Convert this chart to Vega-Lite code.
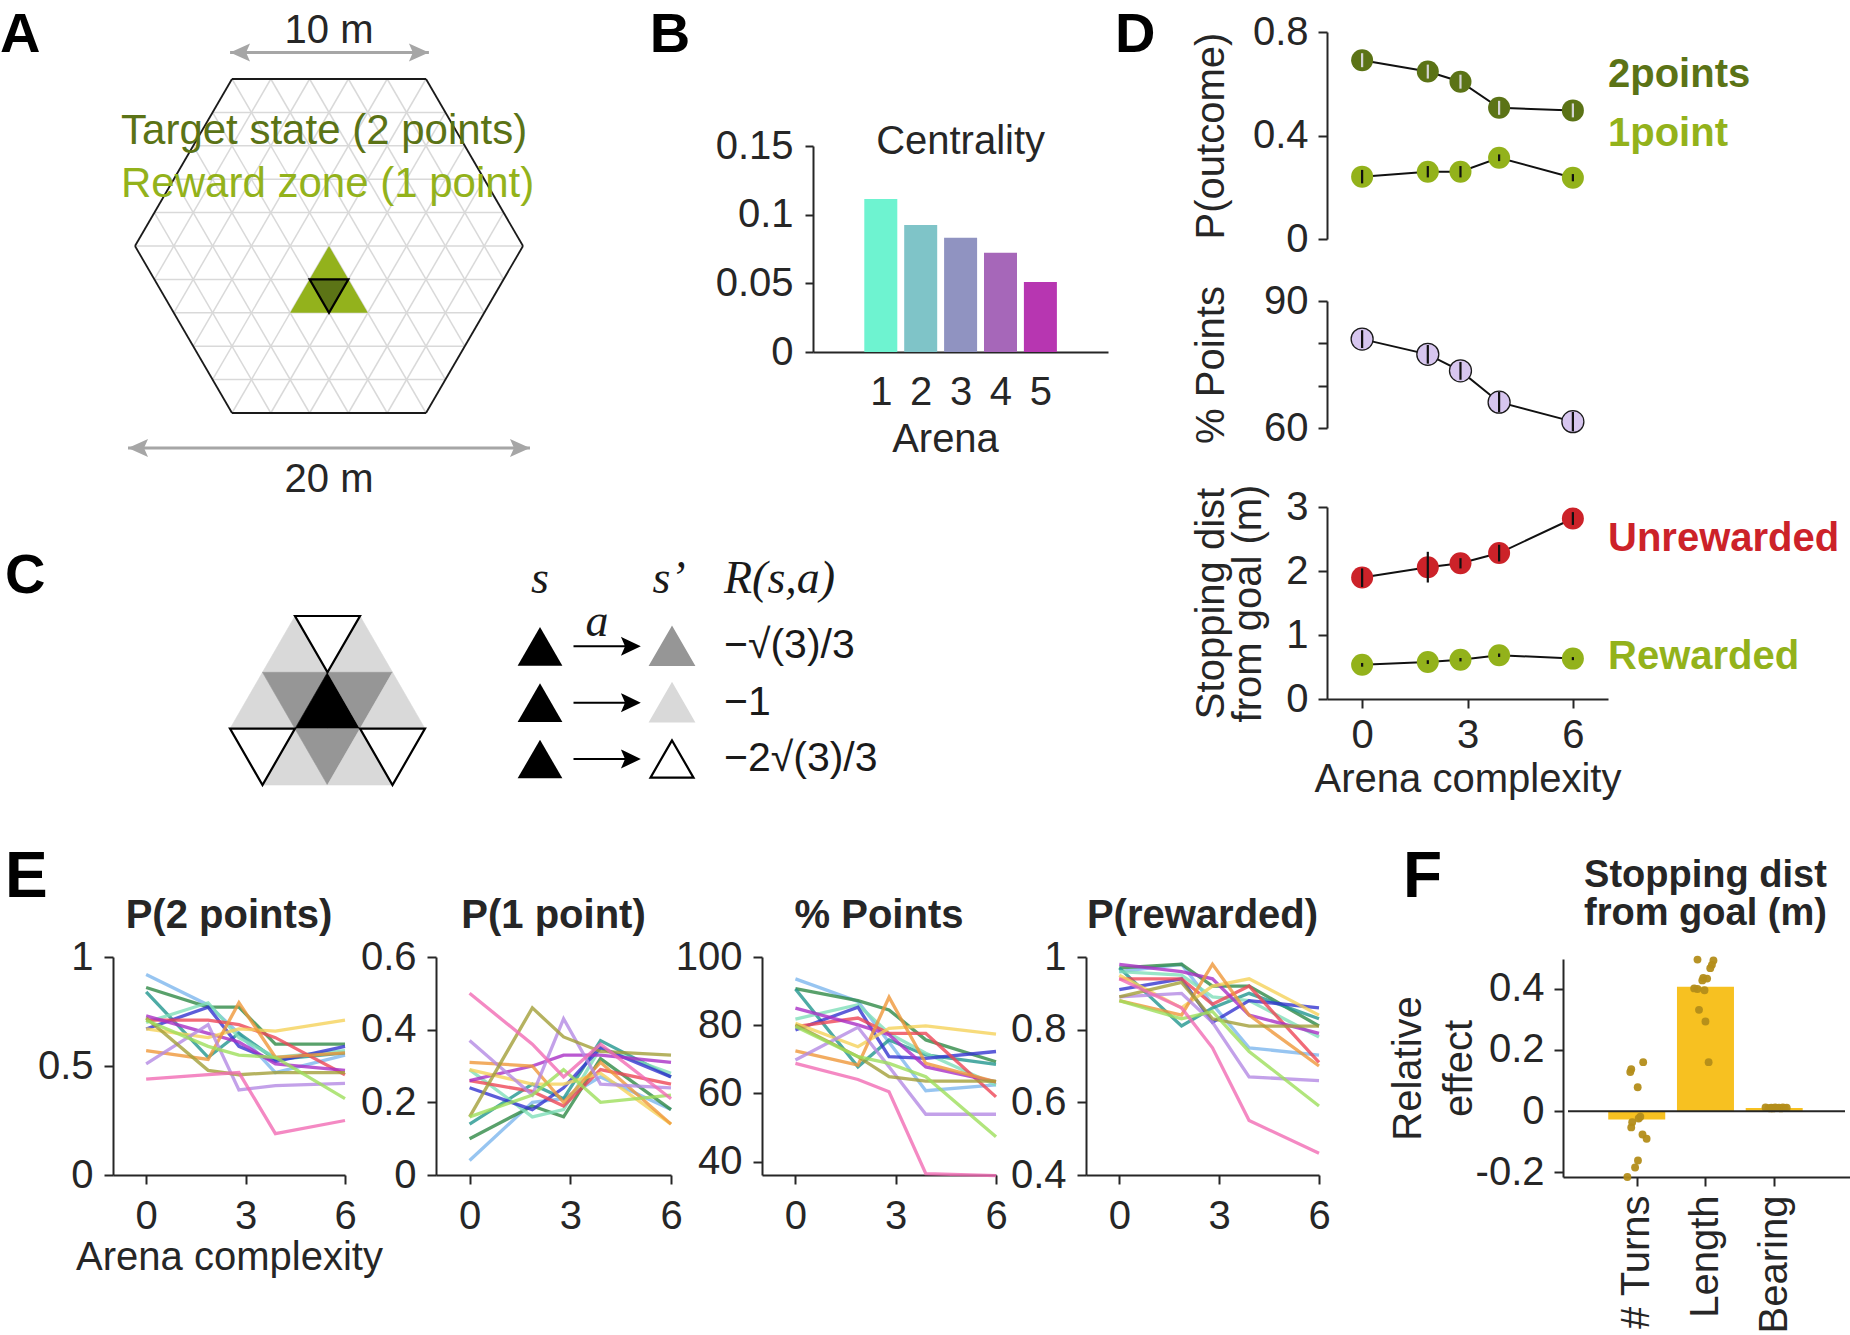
{
"$schema":"https://vega.github.io/schema/vega-lite/v6.json",
"width":1850,"height":1335,
"autosize":{"type":"none"},
"padding":0,
"background":"white",
"config":{
 "view":{"stroke":null},
 "font":"Liberation Sans",
 "axis":{"grid":false,"domainColor":"#262626","domainWidth":2,"tickColor":"#262626","tickWidth":2,"tickSize":9,"labelFont":"Liberation Sans","labelFontSize":40,"labelColor":"#262626","titleFont":"Liberation Sans","titleFontSize":40,"titleFontWeight":"normal","titleColor":"#262626","labelFlush":false,"labelOverlap":false,"labelPadding":11,"labelLimit":0},
 "text":{"font":"Liberation Sans","fontSize":40,"color":"#262626"}
},
"datasets":{
 "e":[
  {"p":1,"s":"lb","x":0,"v":0.92},{"p":1,"s":"lb","x":1.87,"v":0.78},{"p":1,"s":"lb","x":2.8,"v":0.65},{"p":1,"s":"lb","x":3.9,"v":0.47},{"p":1,"s":"lb","x":6,"v":0.55},
  {"p":1,"s":"dg","x":0,"v":0.86},{"p":1,"s":"dg","x":1.87,"v":0.77},{"p":1,"s":"dg","x":2.8,"v":0.77},{"p":1,"s":"dg","x":3.9,"v":0.6},{"p":1,"s":"dg","x":6,"v":0.6},
  {"p":1,"s":"te","x":0,"v":0.84},{"p":1,"s":"te","x":1.87,"v":0.54},{"p":1,"s":"te","x":2.8,"v":0.65},{"p":1,"s":"te","x":3.9,"v":0.53},{"p":1,"s":"te","x":6,"v":0.56},
  {"p":1,"s":"mi","x":0,"v":0.7},{"p":1,"s":"mi","x":1.87,"v":0.79},{"p":1,"s":"mi","x":2.8,"v":0.63},{"p":1,"s":"mi","x":3.9,"v":0.54},{"p":1,"s":"mi","x":6,"v":0.57},
  {"p":1,"s":"bl","x":0,"v":0.67},{"p":1,"s":"bl","x":1.87,"v":0.77},{"p":1,"s":"bl","x":2.8,"v":0.59},{"p":1,"s":"bl","x":3.9,"v":0.52},{"p":1,"s":"bl","x":6,"v":0.59},
  {"p":1,"s":"re","x":0,"v":0.71},{"p":1,"s":"re","x":1.87,"v":0.71},{"p":1,"s":"re","x":2.8,"v":0.69},{"p":1,"s":"re","x":3.9,"v":0.63},{"p":1,"s":"re","x":6,"v":0.46},
  {"p":1,"s":"mg","x":0,"v":0.73},{"p":1,"s":"mg","x":1.87,"v":0.65},{"p":1,"s":"mg","x":2.8,"v":0.61},{"p":1,"s":"mg","x":3.9,"v":0.51},{"p":1,"s":"mg","x":6,"v":0.48},
  {"p":1,"s":"ye","x":0,"v":0.67},{"p":1,"s":"ye","x":1.87,"v":0.63},{"p":1,"s":"ye","x":2.8,"v":0.67},{"p":1,"s":"ye","x":3.9,"v":0.66},{"p":1,"s":"ye","x":6,"v":0.71},
  {"p":1,"s":"or","x":0,"v":0.57},{"p":1,"s":"or","x":1.87,"v":0.53},{"p":1,"s":"or","x":2.8,"v":0.79},{"p":1,"s":"or","x":3.9,"v":0.54},{"p":1,"s":"or","x":6,"v":0.56},
  {"p":1,"s":"la","x":0,"v":0.51},{"p":1,"s":"la","x":1.87,"v":0.69},{"p":1,"s":"la","x":2.8,"v":0.39},{"p":1,"s":"la","x":3.9,"v":0.41},{"p":1,"s":"la","x":6,"v":0.42},
  {"p":1,"s":"ol","x":0,"v":0.72},{"p":1,"s":"ol","x":1.87,"v":0.48},{"p":1,"s":"ol","x":2.8,"v":0.46},{"p":1,"s":"ol","x":3.9,"v":0.47},{"p":1,"s":"ol","x":6,"v":0.47},
  {"p":1,"s":"lg","x":0,"v":0.71},{"p":1,"s":"lg","x":1.87,"v":0.59},{"p":1,"s":"lg","x":2.8,"v":0.55},{"p":1,"s":"lg","x":3.9,"v":0.54},{"p":1,"s":"lg","x":6,"v":0.35},
  {"p":1,"s":"pk","x":0,"v":0.44},{"p":1,"s":"pk","x":1.87,"v":0.46},{"p":1,"s":"pk","x":2.8,"v":0.47},{"p":1,"s":"pk","x":3.9,"v":0.19},{"p":1,"s":"pk","x":6,"v":0.25},

  {"p":2,"s":"lb","x":0,"v":0.04},{"p":2,"s":"lb","x":1.87,"v":0.2},{"p":2,"s":"lb","x":2.8,"v":0.21},{"p":2,"s":"lb","x":3.9,"v":0.27},{"p":2,"s":"lb","x":6,"v":0.18},
  {"p":2,"s":"dg","x":0,"v":0.1},{"p":2,"s":"dg","x":1.87,"v":0.19},{"p":2,"s":"dg","x":2.8,"v":0.16},{"p":2,"s":"dg","x":3.9,"v":0.32},{"p":2,"s":"dg","x":6,"v":0.18},
  {"p":2,"s":"te","x":0,"v":0.14},{"p":2,"s":"te","x":1.87,"v":0.25},{"p":2,"s":"te","x":2.8,"v":0.21},{"p":2,"s":"te","x":3.9,"v":0.37},{"p":2,"s":"te","x":6,"v":0.27},
  {"p":2,"s":"mi","x":0,"v":0.29},{"p":2,"s":"mi","x":1.87,"v":0.16},{"p":2,"s":"mi","x":2.8,"v":0.18},{"p":2,"s":"mi","x":3.9,"v":0.35},{"p":2,"s":"mi","x":6,"v":0.28},
  {"p":2,"s":"bl","x":0,"v":0.24},{"p":2,"s":"bl","x":1.87,"v":0.18},{"p":2,"s":"bl","x":2.8,"v":0.24},{"p":2,"s":"bl","x":3.9,"v":0.35},{"p":2,"s":"bl","x":6,"v":0.27},
  {"p":2,"s":"re","x":0,"v":0.26},{"p":2,"s":"re","x":1.87,"v":0.23},{"p":2,"s":"re","x":2.8,"v":0.19},{"p":2,"s":"re","x":3.9,"v":0.29},{"p":2,"s":"re","x":6,"v":0.25},
  {"p":2,"s":"mg","x":0,"v":0.26},{"p":2,"s":"mg","x":1.87,"v":0.3},{"p":2,"s":"mg","x":2.8,"v":0.33},{"p":2,"s":"mg","x":3.9,"v":0.33},{"p":2,"s":"mg","x":6,"v":0.31},
  {"p":2,"s":"ye","x":0,"v":0.29},{"p":2,"s":"ye","x":1.87,"v":0.25},{"p":2,"s":"ye","x":2.8,"v":0.25},{"p":2,"s":"ye","x":3.9,"v":0.28},{"p":2,"s":"ye","x":6,"v":0.14},
  {"p":2,"s":"or","x":0,"v":0.31},{"p":2,"s":"or","x":1.87,"v":0.3},{"p":2,"s":"or","x":2.8,"v":0.2},{"p":2,"s":"or","x":3.9,"v":0.31},{"p":2,"s":"or","x":6,"v":0.14},
  {"p":2,"s":"la","x":0,"v":0.37},{"p":2,"s":"la","x":1.87,"v":0.22},{"p":2,"s":"la","x":2.8,"v":0.43},{"p":2,"s":"la","x":3.9,"v":0.25},{"p":2,"s":"la","x":6,"v":0.24},
  {"p":2,"s":"ol","x":0,"v":0.16},{"p":2,"s":"ol","x":1.87,"v":0.46},{"p":2,"s":"ol","x":2.8,"v":0.38},{"p":2,"s":"ol","x":3.9,"v":0.34},{"p":2,"s":"ol","x":6,"v":0.33},
  {"p":2,"s":"lg","x":0,"v":0.16},{"p":2,"s":"lg","x":1.87,"v":0.22},{"p":2,"s":"lg","x":2.8,"v":0.29},{"p":2,"s":"lg","x":3.9,"v":0.2},{"p":2,"s":"lg","x":6,"v":0.22},
  {"p":2,"s":"pk","x":0,"v":0.5},{"p":2,"s":"pk","x":1.87,"v":0.36},{"p":2,"s":"pk","x":2.8,"v":0.27},{"p":2,"s":"pk","x":3.9,"v":0.36},{"p":2,"s":"pk","x":6,"v":0.21},

  {"p":3,"s":"lb","x":0,"v":93.6},{"p":3,"s":"lb","x":1.87,"v":87},{"p":3,"s":"lb","x":2.8,"v":75},{"p":3,"s":"lb","x":3.9,"v":60.8},{"p":3,"s":"lb","x":6,"v":62.5},
  {"p":3,"s":"dg","x":0,"v":90.7},{"p":3,"s":"dg","x":1.87,"v":87.2},{"p":3,"s":"dg","x":2.8,"v":84.5},{"p":3,"s":"dg","x":3.9,"v":75.7},{"p":3,"s":"dg","x":6,"v":69.3},
  {"p":3,"s":"te","x":0,"v":90.6},{"p":3,"s":"te","x":1.87,"v":67.8},{"p":3,"s":"te","x":2.8,"v":75.7},{"p":3,"s":"te","x":3.9,"v":71.3},{"p":3,"s":"te","x":6,"v":68.5},
  {"p":3,"s":"mi","x":0,"v":81.8},{"p":3,"s":"mi","x":1.87,"v":86},{"p":3,"s":"mi","x":2.8,"v":77.6},{"p":3,"s":"mi","x":3.9,"v":71.8},{"p":3,"s":"mi","x":6,"v":62.5},
  {"p":3,"s":"bl","x":0,"v":78.6},{"p":3,"s":"bl","x":1.87,"v":85.3},{"p":3,"s":"bl","x":2.8,"v":70.8},{"p":3,"s":"bl","x":3.9,"v":70.3},{"p":3,"s":"bl","x":6,"v":72.3},
  {"p":3,"s":"re","x":0,"v":79.6},{"p":3,"s":"re","x":1.87,"v":82.1},{"p":3,"s":"re","x":2.8,"v":77.6},{"p":3,"s":"re","x":3.9,"v":77.6},{"p":3,"s":"re","x":6,"v":59},
  {"p":3,"s":"mg","x":0,"v":85},{"p":3,"s":"mg","x":1.87,"v":80.1},{"p":3,"s":"mg","x":2.8,"v":77.2},{"p":3,"s":"mg","x":3.9,"v":67.8},{"p":3,"s":"mg","x":6,"v":63.4},
  {"p":3,"s":"ye","x":0,"v":80.6},{"p":3,"s":"ye","x":1.87,"v":73.7},{"p":3,"s":"ye","x":2.8,"v":79.1},{"p":3,"s":"ye","x":3.9,"v":79.8},{"p":3,"s":"ye","x":6,"v":77.4},
  {"p":3,"s":"or","x":0,"v":72.5},{"p":3,"s":"or","x":1.87,"v":68.3},{"p":3,"s":"or","x":2.8,"v":88.2},{"p":3,"s":"or","x":3.9,"v":68.8},{"p":3,"s":"or","x":6,"v":63.4},
  {"p":3,"s":"la","x":0,"v":69.8},{"p":3,"s":"la","x":1.87,"v":79.4},{"p":3,"s":"la","x":2.8,"v":67.8},{"p":3,"s":"la","x":3.9,"v":53.9},{"p":3,"s":"la","x":6,"v":53.9},
  {"p":3,"s":"ol","x":0,"v":80.1},{"p":3,"s":"ol","x":1.87,"v":70.8},{"p":3,"s":"ol","x":2.8,"v":64.9},{"p":3,"s":"ol","x":3.9,"v":63.6},{"p":3,"s":"ol","x":6,"v":63.6},
  {"p":3,"s":"lg","x":0,"v":79.6},{"p":3,"s":"lg","x":1.87,"v":70.8},{"p":3,"s":"lg","x":2.8,"v":68.8},{"p":3,"s":"lg","x":3.9,"v":64.9},{"p":3,"s":"lg","x":6,"v":47.3},
  {"p":3,"s":"pk","x":0,"v":68.8},{"p":3,"s":"pk","x":1.87,"v":64.1},{"p":3,"s":"pk","x":2.8,"v":60.5},{"p":3,"s":"pk","x":3.9,"v":36.5},{"p":3,"s":"pk","x":6,"v":35.9},

  {"p":4,"s":"lb","x":0,"v":0.96},{"p":4,"s":"lb","x":1.87,"v":0.98},{"p":4,"s":"lb","x":2.8,"v":0.87},{"p":4,"s":"lb","x":3.9,"v":0.75},{"p":4,"s":"lb","x":6,"v":0.73},
  {"p":4,"s":"dg","x":0,"v":0.97},{"p":4,"s":"dg","x":1.87,"v":0.98},{"p":4,"s":"dg","x":2.8,"v":0.92},{"p":4,"s":"dg","x":3.9,"v":0.92},{"p":4,"s":"dg","x":6,"v":0.81},
  {"p":4,"s":"te","x":0,"v":0.97},{"p":4,"s":"te","x":1.87,"v":0.81},{"p":4,"s":"te","x":2.8,"v":0.86},{"p":4,"s":"te","x":3.9,"v":0.9},{"p":4,"s":"te","x":6,"v":0.83},
  {"p":4,"s":"mi","x":0,"v":0.96},{"p":4,"s":"mi","x":1.87,"v":0.95},{"p":4,"s":"mi","x":2.8,"v":0.89},{"p":4,"s":"mi","x":3.9,"v":0.88},{"p":4,"s":"mi","x":6,"v":0.78},
  {"p":4,"s":"bl","x":0,"v":0.91},{"p":4,"s":"bl","x":1.87,"v":0.94},{"p":4,"s":"bl","x":2.8,"v":0.82},{"p":4,"s":"bl","x":3.9,"v":0.88},{"p":4,"s":"bl","x":6,"v":0.86},
  {"p":4,"s":"re","x":0,"v":0.94},{"p":4,"s":"re","x":1.87,"v":0.94},{"p":4,"s":"re","x":2.8,"v":0.87},{"p":4,"s":"re","x":3.9,"v":0.92},{"p":4,"s":"re","x":6,"v":0.71},
  {"p":4,"s":"mg","x":0,"v":0.98},{"p":4,"s":"mg","x":1.87,"v":0.96},{"p":4,"s":"mg","x":2.8,"v":0.94},{"p":4,"s":"mg","x":3.9,"v":0.84},{"p":4,"s":"mg","x":6,"v":0.79},
  {"p":4,"s":"ye","x":0,"v":0.95},{"p":4,"s":"ye","x":1.87,"v":0.86},{"p":4,"s":"ye","x":2.8,"v":0.92},{"p":4,"s":"ye","x":3.9,"v":0.94},{"p":4,"s":"ye","x":6,"v":0.84},
  {"p":4,"s":"or","x":0,"v":0.88},{"p":4,"s":"or","x":1.87,"v":0.84},{"p":4,"s":"or","x":2.8,"v":0.98},{"p":4,"s":"or","x":3.9,"v":0.84},{"p":4,"s":"or","x":6,"v":0.7},
  {"p":4,"s":"la","x":0,"v":0.89},{"p":4,"s":"la","x":1.87,"v":0.9},{"p":4,"s":"la","x":2.8,"v":0.82},{"p":4,"s":"la","x":3.9,"v":0.67},{"p":4,"s":"la","x":6,"v":0.66},
  {"p":4,"s":"ol","x":0,"v":0.89},{"p":4,"s":"ol","x":1.87,"v":0.93},{"p":4,"s":"ol","x":2.8,"v":0.83},{"p":4,"s":"ol","x":3.9,"v":0.81},{"p":4,"s":"ol","x":6,"v":0.81},
  {"p":4,"s":"lg","x":0,"v":0.88},{"p":4,"s":"lg","x":1.87,"v":0.83},{"p":4,"s":"lg","x":2.8,"v":0.85},{"p":4,"s":"lg","x":3.9,"v":0.74},{"p":4,"s":"lg","x":6,"v":0.59},
  {"p":4,"s":"pk","x":0,"v":0.94},{"p":4,"s":"pk","x":1.87,"v":0.86},{"p":4,"s":"pk","x":2.8,"v":0.75},{"p":4,"s":"pk","x":3.9,"v":0.55},{"p":4,"s":"pk","x":6,"v":0.46}
 ]
},
"resolve":{"scale":{"x":"independent","y":"independent","color":"independent","fill":"independent","stroke":"independent"},"axis":{"x":"independent","y":"independent"}},
"layer":[
 {"layer":[
  {"data":{"values":[
    {"x":-6,"y":-6.928,"x2":6,"y2":-6.928},{"x":-7,"y":-5.196,"x2":7,"y2":-5.196},{"x":-8,"y":-3.464,"x2":8,"y2":-3.464},{"x":-9,"y":-1.732,"x2":9,"y2":-1.732},{"x":-10,"y":0,"x2":10,"y2":0},{"x":-9,"y":1.732,"x2":9,"y2":1.732},{"x":-8,"y":3.464,"x2":8,"y2":3.464},{"x":-7,"y":5.196,"x2":7,"y2":5.196},{"x":-6,"y":6.928,"x2":6,"y2":6.928},
    {"x":3,"y":-8.66,"x2":9,"y2":1.732},{"x":1,"y":-8.66,"x2":8,"y2":3.464},{"x":-1,"y":-8.66,"x2":7,"y2":5.196},{"x":-3,"y":-8.66,"x2":6,"y2":6.928},{"x":-5,"y":-8.66,"x2":5,"y2":8.66},{"x":-6,"y":-6.928,"x2":3,"y2":8.66},{"x":-7,"y":-5.196,"x2":1,"y2":8.66},{"x":-8,"y":-3.464,"x2":-1,"y2":8.66},{"x":-9,"y":-1.732,"x2":-3,"y2":8.66},
    {"x":-3,"y":-8.66,"x2":-9,"y2":1.732},{"x":-1,"y":-8.66,"x2":-8,"y2":3.464},{"x":1,"y":-8.66,"x2":-7,"y2":5.196},{"x":3,"y":-8.66,"x2":-6,"y2":6.928},{"x":5,"y":-8.66,"x2":-5,"y2":8.66},{"x":6,"y":-6.928,"x2":-3,"y2":8.66},{"x":7,"y":-5.196,"x2":-1,"y2":8.66},{"x":8,"y":-3.464,"x2":1,"y2":8.66},{"x":9,"y":-1.732,"x2":3,"y2":8.66}
   ]},
   "mark":{"type":"rule","color":"#d9d9d9","strokeWidth":1.5},
   "encoding":{"x":{"field":"x","type":"quantitative","scale":{"domain":[-10,10],"range":[135,523],"nice":false,"zero":false},"axis":null},"y":{"field":"y","type":"quantitative","scale":{"domain":[-8.66,8.66],"range":[413,79],"nice":false,"zero":false},"axis":null},"x2":{"field":"x2"},"y2":{"field":"y2"}}},
  {"data":{"values":[
    {"x":10,"y":0,"x2":5,"y2":8.66},{"x":5,"y":8.66,"x2":-5,"y2":8.66},{"x":-5,"y":8.66,"x2":-10,"y2":0},{"x":-10,"y":0,"x2":-5,"y2":-8.66},{"x":-5,"y":-8.66,"x2":5,"y2":-8.66},{"x":5,"y":-8.66,"x2":10,"y2":0}
   ]},
   "mark":{"type":"rule","color":"#1a1a1a","strokeWidth":1.8},
   "encoding":{"x":{"field":"x","type":"quantitative","scale":{"domain":[-10,10],"range":[135,523],"nice":false,"zero":false},"axis":null},"y":{"field":"y","type":"quantitative","scale":{"domain":[-8.66,8.66],"range":[413,79],"nice":false,"zero":false},"axis":null},"x2":{"field":"x2"},"y2":{"field":"y2"}}},
  {"data":{"values":[{"x":-2,"y":-3.464,"y2":-3.464},{"x":0,"y":0,"y2":-3.464},{"x":2,"y":-3.464,"y2":-3.464}]},
   "mark":{"type":"area","color":"#93b21c","opacity":1},
   "encoding":{"x":{"field":"x","type":"quantitative","scale":{"domain":[-10,10],"range":[135,523],"nice":false,"zero":false},"axis":null},"y":{"field":"y","type":"quantitative","stack":null,"scale":{"domain":[-8.66,8.66],"range":[413,79],"nice":false,"zero":false},"axis":null},"y2":{"field":"y2"}}},
  {"data":{"values":[{"x":-1,"y":-1.732,"y2":-1.732},{"x":0,"y":-1.732,"y2":-3.464},{"x":1,"y":-1.732,"y2":-1.732}]},
   "mark":{"type":"area","color":"#5c7416","opacity":1,"stroke":"#000000","strokeWidth":2.2},
   "encoding":{"x":{"field":"x","type":"quantitative","scale":{"domain":[-10,10],"range":[135,523],"nice":false,"zero":false},"axis":null},"y":{"field":"y","type":"quantitative","stack":null,"scale":{"domain":[-8.66,8.66],"range":[413,79],"nice":false,"zero":false},"axis":null},"y2":{"field":"y2"}}},
  {"data":{"values":[{"dim":"10 m","x0":-5.1,"x1":5.15,"y":10.03},{"dim":"20 m","x0":-10.36,"x1":10.36,"y":-10.48}]},
   "layer":[
    {"mark":{"type":"rule","color":"#a6a6a6","strokeWidth":3},
     "encoding":{"x":{"field":"x0","type":"quantitative","scale":{"domain":[-10,10],"range":[135,523],"nice":false,"zero":false},"axis":null},"x2":{"field":"x1"},"y":{"field":"y","type":"quantitative","scale":{"domain":[-8.66,8.66],"range":[413,79],"nice":false,"zero":false},"axis":null}}},
    {"mark":{"type":"point","shape":"M0,0L2,-0.9L1.6,0L2,0.9Z","size":400,"filled":true,"color":"#a6a6a6","opacity":1,"strokeWidth":0},
     "encoding":{"x":{"field":"x0","type":"quantitative","scale":{"domain":[-10,10],"range":[135,523],"nice":false,"zero":false},"axis":null},"y":{"field":"y","type":"quantitative","scale":{"domain":[-8.66,8.66],"range":[413,79],"nice":false,"zero":false},"axis":null}}},
    {"mark":{"type":"point","shape":"M0,0L-2,-0.9L-1.6,0L-2,0.9Z","size":400,"filled":true,"color":"#a6a6a6","opacity":1,"strokeWidth":0},
     "encoding":{"x":{"field":"x1","type":"quantitative","scale":{"domain":[-10,10],"range":[135,523],"nice":false,"zero":false},"axis":null},"y":{"field":"y","type":"quantitative","scale":{"domain":[-8.66,8.66],"range":[413,79],"nice":false,"zero":false},"axis":null}}}
   ]},
  {"data":{"values":[{}]},"mark":{"type":"text","text":"10 m","align":"center","baseline":"alphabetic","fontSize":40,"color":"#262626"},
   "encoding":{"x":{"datum":0,"type":"quantitative","scale":{"domain":[-10,10],"range":[135,523],"nice":false,"zero":false},"axis":null},"y":{"datum":10.53,"type":"quantitative","scale":{"domain":[-8.66,8.66],"range":[413,79],"nice":false,"zero":false},"axis":null}}},
  {"data":{"values":[{}]},"mark":{"type":"text","text":"20 m","align":"center","baseline":"alphabetic","fontSize":40,"color":"#262626"},
   "encoding":{"x":{"datum":0,"type":"quantitative","scale":{"domain":[-10,10],"range":[135,523],"nice":false,"zero":false},"axis":null},"y":{"datum":-12.76,"type":"quantitative","scale":{"domain":[-8.66,8.66],"range":[413,79],"nice":false,"zero":false},"axis":null}}},
  {"data":{"values":[{}]},"mark":{"type":"text","text":"Target state (2 points)","align":"left","baseline":"alphabetic","fontSize":42,"color":"#5b7316"},
   "encoding":{"x":{"datum":-10.72,"type":"quantitative","scale":{"domain":[-10,10],"range":[135,523],"nice":false,"zero":false},"axis":null},"y":{"datum":5.29,"type":"quantitative","scale":{"domain":[-8.66,8.66],"range":[413,79],"nice":false,"zero":false},"axis":null}}},
  {"data":{"values":[{}]},"mark":{"type":"text","text":"Reward zone (1 point)","align":"left","baseline":"alphabetic","fontSize":42,"color":"#93b21b"},
   "encoding":{"x":{"datum":-10.72,"type":"quantitative","scale":{"domain":[-10,10],"range":[135,523],"nice":false,"zero":false},"axis":null},"y":{"datum":2.54,"type":"quantitative","scale":{"domain":[-8.66,8.66],"range":[413,79],"nice":false,"zero":false},"axis":null}}},
  {"data":{"values":[{}]},"mark":{"type":"text","text":"A","align":"left","baseline":"alphabetic","fontSize":56,"fontWeight":"bold","color":"#000000"},
   "encoding":{"x":{"datum":-16.96,"type":"quantitative","scale":{"domain":[-10,10],"range":[135,523],"nice":false,"zero":false},"axis":null},"y":{"datum":10.06,"type":"quantitative","scale":{"domain":[-8.66,8.66],"range":[413,79],"nice":false,"zero":false},"axis":null}}}
 ]},

 {"layer":[
  {"data":{"values":[{"arena":1,"c":0.1114},{"arena":2,"c":0.0925},{"arena":3,"c":0.0832},{"arena":4,"c":0.0723},{"arena":5,"c":0.051}]},
   "mark":{"type":"bar","width":33},
   "encoding":{
    "x":{"field":"arena","type":"quantitative","scale":{"domain":[-0.574,6.569],"range":[813,1108],"nice":false,"zero":false},"axis":{"orient":"bottom","offset":-983,"values":[1,2,3,4,5],"format":"d","title":"Arena","ticks":false,"tickSize":0,"labelPadding":20,"titleY":67,"titleX":945,"titleBaseline":"top"}},
    "y":{"field":"c","type":"quantitative","scale":{"domain":[0,0.15],"range":[352,146],"nice":false,"zero":false},"axis":{"orient":"left","offset":-813,"values":[0,0.05,0.1,0.15],"format":".2~f","title":null,"tickSize":8,"labelPadding":12}},
    "y2":{"datum":0},
    "color":{"field":"arena","type":"nominal","scale":{"domain":[1,2,3,4,5],"range":["#6ef3d0","#7fc4c8","#9093c1","#a667b9","#b736b1"]},"legend":null}}},
  {"data":{"values":[{}]},"mark":{"type":"text","text":"Centrality","align":"center","baseline":"alphabetic","dy":8,"fontSize":40,"color":"#262626"},
   "encoding":{"x":{"datum":3,"type":"quantitative","scale":{"domain":[-0.574,6.569],"range":[813,1108],"nice":false,"zero":false},"axis":{"orient":"bottom","offset":-983,"values":[1,2,3,4,5],"format":"d","title":"Arena","ticks":false,"tickSize":0,"labelPadding":20,"titleY":67,"titleX":945,"titleBaseline":"top"}},
    "y":{"datum":0.15,"type":"quantitative","scale":{"domain":[0,0.15],"range":[352,146],"nice":false,"zero":false},"axis":{"orient":"left","offset":-813,"values":[0,0.05,0.1,0.15],"format":".2~f","title":null,"tickSize":8,"labelPadding":12}}}},
  {"data":{"values":[{}]},"mark":{"type":"text","text":"B","align":"left","baseline":"alphabetic","dx":-231,"dy":-94,"fontSize":56,"fontWeight":"bold","color":"#000000"},
   "encoding":{"x":{"datum":1,"type":"quantitative","scale":{"domain":[-0.574,6.569],"range":[813,1108],"nice":false,"zero":false},"axis":{"orient":"bottom","offset":-983,"values":[1,2,3,4,5],"format":"d","title":"Arena","ticks":false,"tickSize":0,"labelPadding":20,"titleY":67,"titleX":945,"titleBaseline":"top"}},
    "y":{"datum":0.15,"type":"quantitative","scale":{"domain":[0,0.15],"range":[352,146],"nice":false,"zero":false},"axis":{"orient":"left","offset":-813,"values":[0,0.05,0.1,0.15],"format":".2~f","title":null,"tickSize":8,"labelPadding":12}}}}
 ]},

 {"resolve":{"scale":{"x":"independent","y":"independent","fill":"independent","stroke":"independent"}},
  "layer":[
  {"data":{"values":[
    {"t":1,"k":"LG","x":-2,"y":2,"y2":2},{"t":1,"k":"LG","x":-1,"y":3,"y2":2},{"t":1,"k":"LG","x":0,"y":2,"y2":2},
    {"t":2,"k":"W","x":-1,"y":3,"y2":3},{"t":2,"k":"W","x":0,"y":3,"y2":2},{"t":2,"k":"W","x":1,"y":3,"y2":3},
    {"t":3,"k":"LG","x":0,"y":2,"y2":2},{"t":3,"k":"LG","x":1,"y":3,"y2":2},{"t":3,"k":"LG","x":2,"y":2,"y2":2},
    {"t":4,"k":"LG","x":-3,"y":1,"y2":1},{"t":4,"k":"LG","x":-2,"y":2,"y2":1},{"t":4,"k":"LG","x":-1,"y":1,"y2":1},
    {"t":5,"k":"DG","x":-2,"y":2,"y2":2},{"t":5,"k":"DG","x":-1,"y":2,"y2":1},{"t":5,"k":"DG","x":0,"y":2,"y2":2},
    {"t":6,"k":"K","x":-1,"y":1,"y2":1},{"t":6,"k":"K","x":0,"y":2,"y2":1},{"t":6,"k":"K","x":1,"y":1,"y2":1},
    {"t":7,"k":"DG","x":0,"y":2,"y2":2},{"t":7,"k":"DG","x":1,"y":2,"y2":1},{"t":7,"k":"DG","x":2,"y":2,"y2":2},
    {"t":8,"k":"LG","x":1,"y":1,"y2":1},{"t":8,"k":"LG","x":2,"y":2,"y2":1},{"t":8,"k":"LG","x":3,"y":1,"y2":1},
    {"t":9,"k":"W","x":-3,"y":1,"y2":1},{"t":9,"k":"W","x":-2,"y":1,"y2":0},{"t":9,"k":"W","x":-1,"y":1,"y2":1},
    {"t":10,"k":"LG","x":-2,"y":0,"y2":0},{"t":10,"k":"LG","x":-1,"y":1,"y2":0},{"t":10,"k":"LG","x":0,"y":0,"y2":0},
    {"t":11,"k":"DG","x":-1,"y":1,"y2":1},{"t":11,"k":"DG","x":0,"y":1,"y2":0},{"t":11,"k":"DG","x":1,"y":1,"y2":1},
    {"t":12,"k":"LG","x":0,"y":0,"y2":0},{"t":12,"k":"LG","x":1,"y":1,"y2":0},{"t":12,"k":"LG","x":2,"y":0,"y2":0},
    {"t":13,"k":"W","x":1,"y":1,"y2":1},{"t":13,"k":"W","x":2,"y":1,"y2":0},{"t":13,"k":"W","x":3,"y":1,"y2":1}
   ]},
   "layer":[
    {"transform":[{"filter":"datum.k != 'W'"}],
     "mark":{"type":"area","opacity":1,"strokeWidth":0.6},
     "encoding":{"x":{"field":"x","type":"quantitative","scale":{"domain":[-3,3],"range":[230,425],"nice":false,"zero":false},"axis":null},
      "y":{"field":"y","type":"quantitative","stack":null,"scale":{"domain":[0,3],"range":[785,616],"nice":false,"zero":false},"axis":null},
      "y2":{"field":"y2"},"detail":{"field":"t","type":"nominal"},
      "fill":{"field":"k","type":"nominal","scale":{"domain":["LG","DG","K"],"range":["#d9d9d9","#969696","#000000"]},"legend":null},
      "stroke":{"field":"k","type":"nominal","scale":{"domain":["LG","DG","K"],"range":["#d9d9d9","#969696","#000000"]},"legend":null}}},
    {"transform":[{"filter":"datum.k == 'W'"}],
     "mark":{"type":"area","opacity":1,"fill":"#ffffff","stroke":"#000000","strokeWidth":2.2},
     "encoding":{"x":{"field":"x","type":"quantitative","scale":{"domain":[-3,3],"range":[230,425],"nice":false,"zero":false},"axis":null},
      "y":{"field":"y","type":"quantitative","stack":null,"scale":{"domain":[0,3],"range":[785,616],"nice":false,"zero":false},"axis":null},
      "y2":{"field":"y2"},"detail":{"field":"t","type":"nominal"}}},
    {"data":{"values":[{}]},"mark":{"type":"text","text":"C","align":"left","baseline":"alphabetic","dx":-225,"dy":-23,"fontSize":56,"fontWeight":"bold","color":"#000000"},
     "encoding":{"x":{"datum":-3,"type":"quantitative","scale":{"domain":[-3,3],"range":[230,425],"nice":false,"zero":false},"axis":null},"y":{"datum":3,"type":"quantitative","scale":{"domain":[0,3],"range":[785,616],"nice":false,"zero":false},"axis":null}}}
   ]},
  {"data":{"values":[{"row":"1","next":"dark","r":"−√(3)/3"},{"row":"2","next":"light","r":"−1"},{"row":"3","next":"empty","r":"−2√(3)/3"}]},
   "layer":[
    {"mark":{"type":"point","shape":"triangle-up","size":2000,"filled":true,"color":"#000000","opacity":1,"strokeWidth":0},
     "encoding":{"x":{"datum":"s","type":"ordinal","scale":{"type":"point","domain":["s","a","s'","R"],"range":[540,738],"padding":0},"axis":null},
      "y":{"field":"row","type":"ordinal","scale":{"type":"point","domain":["hdr","1","2","3"],"range":[590,759],"padding":0},"axis":null}}},
    {"mark":{"type":"point","shape":"M-1,0L0.6,0M0.52,-0.23L1,0L0.52,0.23L0.62,0Z","size":4225,"filled":true,"fill":"#000000","stroke":"#000000","strokeWidth":2,"opacity":1},
     "encoding":{"x":{"datum":"a","type":"ordinal","scale":{"type":"point","domain":["s","a","s'","R"],"range":[540,738],"padding":0},"axis":null},
      "y":{"field":"row","type":"ordinal","scale":{"type":"point","domain":["hdr","1","2","3"],"range":[590,759],"padding":0},"axis":null}}},
    {"mark":{"type":"point","shape":"triangle-up","size":1850,"filled":true,"opacity":1,"strokeWidth":2.2},
     "encoding":{"x":{"datum":"s'","type":"ordinal","scale":{"type":"point","domain":["s","a","s'","R"],"range":[540,738],"padding":0},"axis":null},
      "y":{"field":"row","type":"ordinal","scale":{"type":"point","domain":["hdr","1","2","3"],"range":[590,759],"padding":0},"axis":null},
      "fill":{"field":"next","type":"nominal","scale":{"domain":["dark","light","empty"],"range":["#969696","#d9d9d9","#ffffff"]},"legend":null},
      "stroke":{"field":"next","type":"nominal","scale":{"domain":["dark","light","empty"],"range":["#969696","#d9d9d9","#000000"]},"legend":null}}},
    {"mark":{"type":"text","align":"left","baseline":"middle","dx":-14,"fontSize":41,"color":"#1a1a1a"},
     "encoding":{"text":{"field":"r"},"x":{"datum":"R","type":"ordinal","scale":{"type":"point","domain":["s","a","s'","R"],"range":[540,738],"padding":0},"axis":null},
      "y":{"field":"row","type":"ordinal","scale":{"type":"point","domain":["hdr","1","2","3"],"range":[590,759],"padding":0},"axis":null}}},
    {"data":{"values":[{}]},"mark":{"type":"text","text":"s","align":"center","baseline":"alphabetic","dy":3,"font":"Liberation Serif","fontStyle":"italic","fontSize":46,"color":"#1a1a1a"},
     "encoding":{"x":{"datum":"s","type":"ordinal","scale":{"type":"point","domain":["s","a","s'","R"],"range":[540,738],"padding":0},"axis":null},
      "y":{"datum":"hdr","type":"ordinal","scale":{"type":"point","domain":["hdr","1","2","3"],"range":[590,759],"padding":0},"axis":null}}},
    {"data":{"values":[{}]},"mark":{"type":"text","text":"s’","align":"center","baseline":"alphabetic","dy":3,"dx":-3,"font":"Liberation Serif","fontStyle":"italic","fontSize":46,"color":"#1a1a1a"},
     "encoding":{"x":{"datum":"s'","type":"ordinal","scale":{"type":"point","domain":["s","a","s'","R"],"range":[540,738],"padding":0},"axis":null},
      "y":{"datum":"hdr","type":"ordinal","scale":{"type":"point","domain":["hdr","1","2","3"],"range":[590,759],"padding":0},"axis":null}}},
    {"data":{"values":[{}]},"mark":{"type":"text","text":"R(s,a)","align":"left","baseline":"alphabetic","dy":3,"dx":-14,"font":"Liberation Serif","fontStyle":"italic","fontSize":46,"color":"#1a1a1a"},
     "encoding":{"x":{"datum":"R","type":"ordinal","scale":{"type":"point","domain":["s","a","s'","R"],"range":[540,738],"padding":0},"axis":null},
      "y":{"datum":"hdr","type":"ordinal","scale":{"type":"point","domain":["hdr","1","2","3"],"range":[590,759],"padding":0},"axis":null}}},
    {"data":{"values":[{}]},"mark":{"type":"text","text":"a","align":"center","baseline":"alphabetic","dy":-10,"dx":-9,"font":"Liberation Serif","fontStyle":"italic","fontSize":46,"color":"#1a1a1a"},
     "encoding":{"x":{"datum":"a","type":"ordinal","scale":{"type":"point","domain":["s","a","s'","R"],"range":[540,738],"padding":0},"axis":null},
      "y":{"datum":"1","type":"ordinal","scale":{"type":"point","domain":["hdr","1","2","3"],"range":[590,759],"padding":0},"axis":null}}}
   ]}
 ]},

 {"layer":[
  {"data":{"values":[
    {"s":"2points","x":0,"v":0.691,"lo":0.664,"hi":0.718},{"s":"2points","x":1.87,"v":0.647,"lo":0.62,"hi":0.674},{"s":"2points","x":2.8,"v":0.608,"lo":0.581,"hi":0.635},{"s":"2points","x":3.9,"v":0.507,"lo":0.48,"hi":0.534},{"s":"2points","x":6,"v":0.497,"lo":0.47,"hi":0.524},
    {"s":"1point","x":0,"v":0.241,"lo":0.215,"hi":0.267},{"s":"1point","x":1.87,"v":0.26,"lo":0.238,"hi":0.282},{"s":"1point","x":2.8,"v":0.26,"lo":0.238,"hi":0.282},{"s":"1point","x":3.9,"v":0.314,"lo":0.301,"hi":0.327},{"s":"1point","x":6,"v":0.237,"lo":0.223,"hi":0.251}
   ]},
   "layer":[
    {"mark":{"type":"line","color":"#111111","strokeWidth":2},
     "encoding":{"x":{"field":"x","type":"quantitative","scale":{"domain":[-1,7],"range":[1327,1608],"nice":false,"zero":false},"axis":null},
      "y":{"field":"v","type":"quantitative","scale":{"domain":[0,0.8],"range":[239,32],"nice":false,"zero":false},"axis":{"orient":"left","offset":-1327,"values":[0,0.4,0.8],"format":".1~f","title":"P(outcome)","titleX":-116,"titleBaseline":"middle","labelPadding":10}},
      "detail":{"field":"s","type":"nominal"}}},
    {"mark":{"type":"point","shape":"circle","filled":true,"size":484,"opacity":1,"strokeWidth":0},
     "encoding":{"x":{"field":"x","type":"quantitative","scale":{"domain":[-1,7],"range":[1327,1608],"nice":false,"zero":false},"axis":null},
      "y":{"field":"v","type":"quantitative","scale":{"domain":[0,0.8],"range":[239,32],"nice":false,"zero":false},"axis":{"orient":"left","offset":-1327,"values":[0,0.4,0.8],"format":".1~f","title":"P(outcome)","titleX":-116,"titleBaseline":"middle","labelPadding":10}},
      "fill":{"field":"s","type":"nominal","scale":{"domain":["2points","1point"],"range":["#5b7316","#93b21b"]},"legend":null}}},
    {"mark":{"type":"rule","strokeWidth":2.2},
     "encoding":{"x":{"field":"x","type":"quantitative","scale":{"domain":[-1,7],"range":[1327,1608],"nice":false,"zero":false},"axis":null},
      "y":{"field":"lo","type":"quantitative","scale":{"domain":[0,0.8],"range":[239,32],"nice":false,"zero":false},"axis":{"orient":"left","offset":-1327,"values":[0,0.4,0.8],"format":".1~f","title":"P(outcome)","titleX":-116,"titleBaseline":"middle","labelPadding":10}},"y2":{"field":"hi"},
      "stroke":{"field":"s","type":"nominal","scale":{"domain":["2points","1point"],"range":["#d4d4d4","#111111"]},"legend":null}}}
   ]},
  {"data":{"values":[{}]},"mark":{"type":"text","text":"2points","align":"left","baseline":"alphabetic","dy":55,"fontSize":40,"fontWeight":"bold","color":"#5b7316"},
   "encoding":{"x":{"datum":7,"type":"quantitative","scale":{"domain":[-1,7],"range":[1327,1608],"nice":false,"zero":false},"axis":null},"y":{"datum":0.8,"type":"quantitative","scale":{"domain":[0,0.8],"range":[239,32],"nice":false,"zero":false},"axis":{"orient":"left","offset":-1327,"values":[0,0.4,0.8],"format":".1~f","title":"P(outcome)","titleX":-116,"titleBaseline":"middle","labelPadding":10}}}},
  {"data":{"values":[{}]},"mark":{"type":"text","text":"1point","align":"left","baseline":"alphabetic","dy":114,"fontSize":40,"fontWeight":"bold","color":"#93b21b"},
   "encoding":{"x":{"datum":7,"type":"quantitative","scale":{"domain":[-1,7],"range":[1327,1608],"nice":false,"zero":false},"axis":null},"y":{"datum":0.8,"type":"quantitative","scale":{"domain":[0,0.8],"range":[239,32],"nice":false,"zero":false},"axis":{"orient":"left","offset":-1327,"values":[0,0.4,0.8],"format":".1~f","title":"P(outcome)","titleX":-116,"titleBaseline":"middle","labelPadding":10}}}},
  {"data":{"values":[{}]},"mark":{"type":"text","text":"D","align":"left","baseline":"alphabetic","dx":-212,"dy":20,"fontSize":56,"fontWeight":"bold","color":"#000000"},
   "encoding":{"x":{"datum":-1,"type":"quantitative","scale":{"domain":[-1,7],"range":[1327,1608],"nice":false,"zero":false},"axis":null},"y":{"datum":0.8,"type":"quantitative","scale":{"domain":[0,0.8],"range":[239,32],"nice":false,"zero":false},"axis":{"orient":"left","offset":-1327,"values":[0,0.4,0.8],"format":".1~f","title":"P(outcome)","titleX":-116,"titleBaseline":"middle","labelPadding":10}}}}
 ]},

 {"data":{"values":[
   {"x":0,"v":81.0,"lo":78.9,"hi":83.1},{"x":1.87,"v":77.4,"lo":75.2,"hi":79.6},{"x":2.8,"v":73.5,"lo":71.4,"hi":75.6},{"x":3.9,"v":66.1,"lo":63.7,"hi":68.5},{"x":6,"v":61.5,"lo":59.2,"hi":63.8}
  ]},
  "layer":[
   {"mark":{"type":"line","color":"#111111","strokeWidth":2},
    "encoding":{"x":{"field":"x","type":"quantitative","scale":{"domain":[-1,7],"range":[1327,1608],"nice":false,"zero":false},"axis":null},
     "y":{"field":"v","type":"quantitative","scale":{"domain":[60,90],"range":[428,301],"nice":false,"zero":false},"axis":{"orient":"left","offset":-1327,"values":[60,70,80,90],"format":"d","labelExpr":"datum.value == 60 || datum.value == 90 ? datum.label : ''","title":"% Points","titleX":-116,"titleBaseline":"middle","labelPadding":10}}}},
   {"mark":{"type":"point","shape":"circle","filled":true,"size":484,"opacity":1,"fill":"#d7c6ef","stroke":"#1a1a1a","strokeWidth":1.3},
    "encoding":{"x":{"field":"x","type":"quantitative","scale":{"domain":[-1,7],"range":[1327,1608],"nice":false,"zero":false},"axis":null},
     "y":{"field":"v","type":"quantitative","scale":{"domain":[60,90],"range":[428,301],"nice":false,"zero":false},"axis":{"orient":"left","offset":-1327,"values":[60,70,80,90],"format":"d","labelExpr":"datum.value == 60 || datum.value == 90 ? datum.label : ''","title":"% Points","titleX":-116,"titleBaseline":"middle","labelPadding":10}}}},
   {"mark":{"type":"rule","strokeWidth":2.2,"color":"#111111"},
    "encoding":{"x":{"field":"x","type":"quantitative","scale":{"domain":[-1,7],"range":[1327,1608],"nice":false,"zero":false},"axis":null},
     "y":{"field":"lo","type":"quantitative","scale":{"domain":[60,90],"range":[428,301],"nice":false,"zero":false},"axis":{"orient":"left","offset":-1327,"values":[60,70,80,90],"format":"d","labelExpr":"datum.value == 60 || datum.value == 90 ? datum.label : ''","title":"% Points","titleX":-116,"titleBaseline":"middle","labelPadding":10}},"y2":{"field":"hi"}}}
  ]},

 {"layer":[
  {"data":{"values":[
    {"s":"Unrewarded","x":0,"v":1.897,"lo":1.75,"hi":2.04},{"s":"Unrewarded","x":1.87,"v":2.06,"lo":1.82,"hi":2.3},{"s":"Unrewarded","x":2.8,"v":2.12,"lo":2.04,"hi":2.2},{"s":"Unrewarded","x":3.9,"v":2.28,"lo":2.15,"hi":2.41},{"s":"Unrewarded","x":6,"v":2.82,"lo":2.72,"hi":2.92},
    {"s":"Rewarded","x":0,"v":0.534,"lo":0.505,"hi":0.563},{"s":"Rewarded","x":1.87,"v":0.577,"lo":0.548,"hi":0.606},{"s":"Rewarded","x":2.8,"v":0.614,"lo":0.587,"hi":0.641},{"s":"Rewarded","x":3.9,"v":0.684,"lo":0.657,"hi":0.711},{"s":"Rewarded","x":6,"v":0.631,"lo":0.607,"hi":0.655}
   ]},
   "layer":[
    {"mark":{"type":"line","color":"#111111","strokeWidth":2},
     "encoding":{"x":{"field":"x","type":"quantitative","scale":{"domain":[-1,7],"range":[1327,1608],"nice":false,"zero":false},"axis":{"orient":"bottom","offset":-636,"values":[0,3,6],"format":"d","title":"Arena complexity","titleY":60,"titleBaseline":"top","labelPadding":7}},
      "y":{"field":"v","type":"quantitative","scale":{"domain":[0,3],"range":[699,507],"nice":false,"zero":false},"axis":{"orient":"left","offset":-1327,"values":[0,1,2,3],"format":"d","title":["Stopping dist","from goal (m)"],"titleX":-116,"titleBaseline":"middle","titleLineHeight":37,"labelPadding":10}},
      "detail":{"field":"s","type":"nominal"}}},
    {"mark":{"type":"point","shape":"circle","filled":true,"size":484,"opacity":1,"strokeWidth":0},
     "encoding":{"x":{"field":"x","type":"quantitative","scale":{"domain":[-1,7],"range":[1327,1608],"nice":false,"zero":false},"axis":{"orient":"bottom","offset":-636,"values":[0,3,6],"format":"d","title":"Arena complexity","titleY":60,"titleBaseline":"top","labelPadding":7}},
      "y":{"field":"v","type":"quantitative","scale":{"domain":[0,3],"range":[699,507],"nice":false,"zero":false},"axis":{"orient":"left","offset":-1327,"values":[0,1,2,3],"format":"d","title":["Stopping dist","from goal (m)"],"titleX":-116,"titleBaseline":"middle","titleLineHeight":37,"labelPadding":10}},
      "fill":{"field":"s","type":"nominal","scale":{"domain":["Unrewarded","Rewarded"],"range":["#cc2229","#93b21b"]},"legend":null}}},
    {"mark":{"type":"rule","strokeWidth":2.2,"color":"#111111"},
     "encoding":{"x":{"field":"x","type":"quantitative","scale":{"domain":[-1,7],"range":[1327,1608],"nice":false,"zero":false},"axis":{"orient":"bottom","offset":-636,"values":[0,3,6],"format":"d","title":"Arena complexity","titleY":60,"titleBaseline":"top","labelPadding":7}},
      "y":{"field":"lo","type":"quantitative","scale":{"domain":[0,3],"range":[699,507],"nice":false,"zero":false},"axis":{"orient":"left","offset":-1327,"values":[0,1,2,3],"format":"d","title":["Stopping dist","from goal (m)"],"titleX":-116,"titleBaseline":"middle","titleLineHeight":37,"labelPadding":10}},"y2":{"field":"hi"}}}
   ]},
  {"data":{"values":[{}]},"mark":{"type":"text","text":"Unrewarded","align":"left","baseline":"alphabetic","dy":44,"fontSize":40,"fontWeight":"bold","color":"#cc2229"},
   "encoding":{"x":{"datum":7,"type":"quantitative","scale":{"domain":[-1,7],"range":[1327,1608],"nice":false,"zero":false},"axis":{"orient":"bottom","offset":-636,"values":[0,3,6],"format":"d","title":"Arena complexity","titleY":60,"titleBaseline":"top","labelPadding":7}},
    "y":{"datum":3,"type":"quantitative","scale":{"domain":[0,3],"range":[699,507],"nice":false,"zero":false},"axis":{"orient":"left","offset":-1327,"values":[0,1,2,3],"format":"d","title":["Stopping dist","from goal (m)"],"titleX":-116,"titleBaseline":"middle","titleLineHeight":37,"labelPadding":10}}}},
  {"data":{"values":[{}]},"mark":{"type":"text","text":"Rewarded","align":"left","baseline":"alphabetic","dy":162,"fontSize":40,"fontWeight":"bold","color":"#93b21b"},
   "encoding":{"x":{"datum":7,"type":"quantitative","scale":{"domain":[-1,7],"range":[1327,1608],"nice":false,"zero":false},"axis":{"orient":"bottom","offset":-636,"values":[0,3,6],"format":"d","title":"Arena complexity","titleY":60,"titleBaseline":"top","labelPadding":7}},
    "y":{"datum":3,"type":"quantitative","scale":{"domain":[0,3],"range":[699,507],"nice":false,"zero":false},"axis":{"orient":"left","offset":-1327,"values":[0,1,2,3],"format":"d","title":["Stopping dist","from goal (m)"],"titleX":-116,"titleBaseline":"middle","titleLineHeight":37,"labelPadding":10}}}}
 ]},

 {"layer":[
  {"data":{"name":"e"},"transform":[{"filter":"datum.p == 1"}],
   "mark":{"type":"line","strokeWidth":3.3,"opacity":0.8},
   "encoding":{"x":{"field":"x","type":"quantitative","scale":{"domain":[-1,6],"range":[113,345],"nice":false,"zero":false},"axis":{"orient":"bottom","offset":-160,"values":[0,3,6],"format":"d","title":"Arena complexity","titleY":62,"titleBaseline":"top","labelPadding":12}},
    "y":{"field":"v","type":"quantitative","scale":{"domain":[0,1],"range":[1175,957],"nice":false,"zero":false},"axis":{"orient":"left","offset":-113,"values":[0,0.5,1],"format":".1~f","title":null}},
    "color":{"field":"s","type":"nominal","scale":{"domain":["lb","dg","te","mi","bl","re","mg","ye","or","la","ol","lg","pk"],"range":["#7db7ee","#2f8a46","#22968f","#7fdfb9","#3434cf","#ee4656","#a92fc6","#f5d25a","#ef9739","#b48ae3","#a29f38","#9ede5b","#f16cb4"]},"legend":null}}},
  {"data":{"values":[{}]},"mark":{"type":"text","text":"P(2 points)","align":"center","baseline":"alphabetic","dy":-29,"fontSize":40,"fontWeight":"bold","color":"#262626"},
   "encoding":{"x":{"datum":2.5,"type":"quantitative","scale":{"domain":[-1,6],"range":[113,345],"nice":false,"zero":false},"axis":{"orient":"bottom","offset":-160,"values":[0,3,6],"format":"d","title":"Arena complexity","titleY":62,"titleBaseline":"top","labelPadding":12}},
    "y":{"datum":1,"type":"quantitative","scale":{"domain":[0,1],"range":[1175,957],"nice":false,"zero":false},"axis":{"orient":"left","offset":-113,"values":[0,0.5,1],"format":".1~f","title":null}}}},
  {"data":{"values":[{}]},"mark":{"type":"text","text":"E","align":"left","baseline":"alphabetic","dx":-108,"dy":-60,"fontSize":64,"fontWeight":"bold","color":"#000000"},
   "encoding":{"x":{"datum":-1,"type":"quantitative","scale":{"domain":[-1,6],"range":[113,345],"nice":false,"zero":false},"axis":{"orient":"bottom","offset":-160,"values":[0,3,6],"format":"d","title":"Arena complexity","titleY":62,"titleBaseline":"top","labelPadding":12}},
    "y":{"datum":1,"type":"quantitative","scale":{"domain":[0,1],"range":[1175,957],"nice":false,"zero":false},"axis":{"orient":"left","offset":-113,"values":[0,0.5,1],"format":".1~f","title":null}}}}
 ]},

 {"layer":[
  {"data":{"name":"e"},"transform":[{"filter":"datum.p == 2"}],
   "mark":{"type":"line","strokeWidth":3.3,"opacity":0.8},
   "encoding":{"x":{"field":"x","type":"quantitative","scale":{"domain":[-1,6],"range":[436,671],"nice":false,"zero":false},"axis":{"orient":"bottom","offset":-160,"values":[0,3,6],"format":"d","title":null,"labelPadding":12}},
    "y":{"field":"v","type":"quantitative","scale":{"domain":[0,0.6],"range":[1175,957],"nice":false,"zero":false},"axis":{"orient":"left","offset":-436,"values":[0,0.2,0.4,0.6],"format":".1~f","title":null}},
    "color":{"field":"s","type":"nominal","scale":{"domain":["lb","dg","te","mi","bl","re","mg","ye","or","la","ol","lg","pk"],"range":["#7db7ee","#2f8a46","#22968f","#7fdfb9","#3434cf","#ee4656","#a92fc6","#f5d25a","#ef9739","#b48ae3","#a29f38","#9ede5b","#f16cb4"]},"legend":null}}},
  {"data":{"values":[{}]},"mark":{"type":"text","text":"P(1 point)","align":"center","baseline":"alphabetic","dy":-29,"fontSize":40,"fontWeight":"bold","color":"#262626"},
   "encoding":{"x":{"datum":2.5,"type":"quantitative","scale":{"domain":[-1,6],"range":[436,671],"nice":false,"zero":false},"axis":{"orient":"bottom","offset":-160,"values":[0,3,6],"format":"d","title":null,"labelPadding":12}},
    "y":{"datum":0.6,"type":"quantitative","scale":{"domain":[0,0.6],"range":[1175,957],"nice":false,"zero":false},"axis":{"orient":"left","offset":-436,"values":[0,0.2,0.4,0.6],"format":".1~f","title":null}}}}
 ]},

 {"layer":[
  {"data":{"name":"e"},"transform":[{"filter":"datum.p == 3"}],
   "mark":{"type":"line","strokeWidth":3.3,"opacity":0.8},
   "encoding":{"x":{"field":"x","type":"quantitative","scale":{"domain":[-1,6],"range":[762,996],"nice":false,"zero":false},"axis":{"orient":"bottom","offset":-160,"values":[0,3,6],"format":"d","title":null,"labelPadding":12}},
    "y":{"field":"v","type":"quantitative","scale":{"domain":[36.1,100],"range":[1175,957],"nice":false,"zero":false},"axis":{"orient":"left","offset":-762,"values":[40,60,80,100],"format":"d","title":null}},
    "color":{"field":"s","type":"nominal","scale":{"domain":["lb","dg","te","mi","bl","re","mg","ye","or","la","ol","lg","pk"],"range":["#7db7ee","#2f8a46","#22968f","#7fdfb9","#3434cf","#ee4656","#a92fc6","#f5d25a","#ef9739","#b48ae3","#a29f38","#9ede5b","#f16cb4"]},"legend":null}}},
  {"data":{"values":[{}]},"mark":{"type":"text","text":"% Points","align":"center","baseline":"alphabetic","dy":-29,"fontSize":40,"fontWeight":"bold","color":"#262626"},
   "encoding":{"x":{"datum":2.5,"type":"quantitative","scale":{"domain":[-1,6],"range":[762,996],"nice":false,"zero":false},"axis":{"orient":"bottom","offset":-160,"values":[0,3,6],"format":"d","title":null,"labelPadding":12}},
    "y":{"datum":100,"type":"quantitative","scale":{"domain":[36.1,100],"range":[1175,957],"nice":false,"zero":false},"axis":{"orient":"left","offset":-762,"values":[40,60,80,100],"format":"d","title":null}}}}
 ]},

 {"layer":[
  {"data":{"name":"e"},"transform":[{"filter":"datum.p == 4"}],
   "mark":{"type":"line","strokeWidth":3.3,"opacity":0.8},
   "encoding":{"x":{"field":"x","type":"quantitative","scale":{"domain":[-1,6],"range":[1086,1319],"nice":false,"zero":false},"axis":{"orient":"bottom","offset":-160,"values":[0,3,6],"format":"d","title":null,"labelPadding":12}},
    "y":{"field":"v","type":"quantitative","scale":{"domain":[0.4,1],"range":[1175,957],"nice":false,"zero":false},"axis":{"orient":"left","offset":-1086,"values":[0.4,0.6,0.8,1],"format":".1~f","title":null}},
    "color":{"field":"s","type":"nominal","scale":{"domain":["lb","dg","te","mi","bl","re","mg","ye","or","la","ol","lg","pk"],"range":["#7db7ee","#2f8a46","#22968f","#7fdfb9","#3434cf","#ee4656","#a92fc6","#f5d25a","#ef9739","#b48ae3","#a29f38","#9ede5b","#f16cb4"]},"legend":null}}},
  {"data":{"values":[{}]},"mark":{"type":"text","text":"P(rewarded)","align":"center","baseline":"alphabetic","dy":-29,"fontSize":40,"fontWeight":"bold","color":"#262626"},
   "encoding":{"x":{"datum":2.5,"type":"quantitative","scale":{"domain":[-1,6],"range":[1086,1319],"nice":false,"zero":false},"axis":{"orient":"bottom","offset":-160,"values":[0,3,6],"format":"d","title":null,"labelPadding":12}},
    "y":{"datum":1,"type":"quantitative","scale":{"domain":[0.4,1],"range":[1175,957],"nice":false,"zero":false},"axis":{"orient":"left","offset":-1086,"values":[0.4,0.6,0.8,1],"format":".1~f","title":null}}}}
 ]},

 {"layer":[
  {"data":{"values":[{"m":"# Turns","i":1,"v":-0.027},{"m":"Length","i":2,"v":0.406},{"m":"Bearing","i":3,"v":0.01}]},
   "mark":{"type":"bar","color":"#f7c121","width":57},
   "encoding":{"x":{"field":"i","type":"quantitative","scale":{"domain":[0,4.03],"range":[1563,1850],"nice":false,"zero":false},"axis":{"orient":"bottom","offset":-158,"values":[1,2,3],"labelExpr":"datum.value == 1 ? '# Turns' : datum.value == 2 ? 'Length' : 'Bearing'","title":null,"labelAngle":270,"labelAlign":"right","labelBaseline":"middle","labelPadding":9,"tickSize":9}},
    "y":{"field":"v","type":"quantitative","scale":{"domain":[-0.215,0.497],"range":[1177,959],"nice":false,"zero":false},"axis":{"orient":"left","offset":-1563,"values":[-0.2,0,0.2,0.4],"format":".1~f","labelExpr":"replace(datum.label, '−', '-')","title":["Relative","effect"],"titleX":-155,"titleBaseline":"middle","titleLineHeight":51,"labelPadding":10}},
    "y2":{"datum":0}}},
  {"data":{"values":[
    {"m":"# Turns","xj":1.094,"v":0.16},{"m":"# Turns","xj":0.92,"v":0.137},{"m":"# Turns","xj":0.906,"v":0.128},{"m":"# Turns","xj":1.014,"v":0.078},{"m":"# Turns","xj":1.052,"v":-0.018},{"m":"# Turns","xj":1.028,"v":-0.024},{"m":"# Turns","xj":0.934,"v":-0.036},{"m":"# Turns","xj":0.92,"v":-0.053},{"m":"# Turns","xj":1.084,"v":-0.076},{"m":"# Turns","xj":1.144,"v":-0.09},{"m":"# Turns","xj":1.018,"v":-0.161},{"m":"# Turns","xj":0.976,"v":-0.184},{"m":"# Turns","xj":0.864,"v":-0.215},
    {"m":"Length","xj":1.884,"v":0.495},{"m":"Length","xj":2.116,"v":0.492},{"m":"Length","xj":2.094,"v":0.478},{"m":"Length","xj":2.07,"v":0.467},{"m":"Length","xj":1.968,"v":0.435},{"m":"Length","xj":2.024,"v":0.433},{"m":"Length","xj":1.954,"v":0.427},{"m":"Length","xj":1.836,"v":0.401},{"m":"Length","xj":1.884,"v":0.399},{"m":"Length","xj":1.986,"v":0.395},{"m":"Length","xj":1.906,"v":0.331},{"m":"Length","xj":2.0,"v":0.293},{"m":"Length","xj":2.046,"v":0.16},
    {"m":"Bearing","xj":2.874,"v":0.012},{"m":"Bearing","xj":2.916,"v":0.01},{"m":"Bearing","xj":2.958,"v":0.011},{"m":"Bearing","xj":2.986,"v":0.009},{"m":"Bearing","xj":3.014,"v":0.012},{"m":"Bearing","xj":3.042,"v":0.01},{"m":"Bearing","xj":3.07,"v":0.011},{"m":"Bearing","xj":3.098,"v":0.009},{"m":"Bearing","xj":3.126,"v":0.012},{"m":"Bearing","xj":3.154,"v":0.01},{"m":"Bearing","xj":3.182,"v":0.011},{"m":"Bearing","xj":2.944,"v":0.009},{"m":"Bearing","xj":3.028,"v":0.01}
   ]},
   "mark":{"type":"circle","size":62,"opacity":0.95,"color":"#b38d1a"},
   "encoding":{"x":{"field":"xj","type":"quantitative","scale":{"domain":[0,4.03],"range":[1563,1850],"nice":false,"zero":false},"axis":{"orient":"bottom","offset":-158,"values":[1,2,3],"labelExpr":"datum.value == 1 ? '# Turns' : datum.value == 2 ? 'Length' : 'Bearing'","title":null,"labelAngle":270,"labelAlign":"right","labelBaseline":"middle","labelPadding":9,"tickSize":9}},
    "y":{"field":"v","type":"quantitative","scale":{"domain":[-0.215,0.497],"range":[1177,959],"nice":false,"zero":false},"axis":{"orient":"left","offset":-1563,"values":[-0.2,0,0.2,0.4],"format":".1~f","labelExpr":"replace(datum.label, '−', '-')","title":["Relative","effect"],"titleX":-155,"titleBaseline":"middle","titleLineHeight":51,"labelPadding":10}}}},
  {"data":{"values":[{}]},"mark":{"type":"rule","color":"#262626","strokeWidth":2},
   "encoding":{"x":{"datum":0,"type":"quantitative","scale":{"domain":[0,4.03],"range":[1563,1850],"nice":false,"zero":false},"axis":{"orient":"bottom","offset":-158,"values":[1,2,3],"labelExpr":"datum.value == 1 ? '# Turns' : datum.value == 2 ? 'Length' : 'Bearing'","title":null,"labelAngle":270,"labelAlign":"right","labelBaseline":"middle","labelPadding":9,"tickSize":9}},"x2":{"datum":4.03},
    "y":{"datum":0,"type":"quantitative","scale":{"domain":[-0.215,0.497],"range":[1177,959],"nice":false,"zero":false},"axis":{"orient":"left","offset":-1563,"values":[-0.2,0,0.2,0.4],"format":".1~f","labelExpr":"replace(datum.label, '−', '-')","title":["Relative","effect"],"titleX":-155,"titleBaseline":"middle","titleLineHeight":51,"labelPadding":10}}}},
  {"data":{"values":[{}]},"mark":{"type":"text","text":"F","align":"left","baseline":"alphabetic","dx":-165,"dy":-62,"fontSize":64,"fontWeight":"bold","color":"#000000"},
   "encoding":{"x":{"datum":0,"type":"quantitative","scale":{"domain":[0,4.03],"range":[1563,1850],"nice":false,"zero":false},"axis":{"orient":"bottom","offset":-158,"values":[1,2,3],"labelExpr":"datum.value == 1 ? '# Turns' : datum.value == 2 ? 'Length' : 'Bearing'","title":null,"labelAngle":270,"labelAlign":"right","labelBaseline":"middle","labelPadding":9,"tickSize":9}},
    "y":{"datum":0.497,"type":"quantitative","scale":{"domain":[-0.215,0.497],"range":[1177,959],"nice":false,"zero":false},"axis":{"orient":"left","offset":-1563,"values":[-0.2,0,0.2,0.4],"format":".1~f","labelExpr":"replace(datum.label, '−', '-')","title":["Relative","effect"],"titleX":-155,"titleBaseline":"middle","titleLineHeight":51,"labelPadding":10}}}},
  {"data":{"values":[{}]},"mark":{"type":"text","text":["Stopping dist","from goal (m)"],"align":"center","baseline":"alphabetic","dy":-72,"lineHeight":38,"fontSize":38,"fontWeight":"bold","color":"#262626"},
   "encoding":{"x":{"datum":2,"type":"quantitative","scale":{"domain":[0,4.03],"range":[1563,1850],"nice":false,"zero":false},"axis":{"orient":"bottom","offset":-158,"values":[1,2,3],"labelExpr":"datum.value == 1 ? '# Turns' : datum.value == 2 ? 'Length' : 'Bearing'","title":null,"labelAngle":270,"labelAlign":"right","labelBaseline":"middle","labelPadding":9,"tickSize":9}},
    "y":{"datum":0.497,"type":"quantitative","scale":{"domain":[-0.215,0.497],"range":[1177,959],"nice":false,"zero":false},"axis":{"orient":"left","offset":-1563,"values":[-0.2,0,0.2,0.4],"format":".1~f","labelExpr":"replace(datum.label, '−', '-')","title":["Relative","effect"],"titleX":-155,"titleBaseline":"middle","titleLineHeight":51,"labelPadding":10}}}}
 ]}
]
}
